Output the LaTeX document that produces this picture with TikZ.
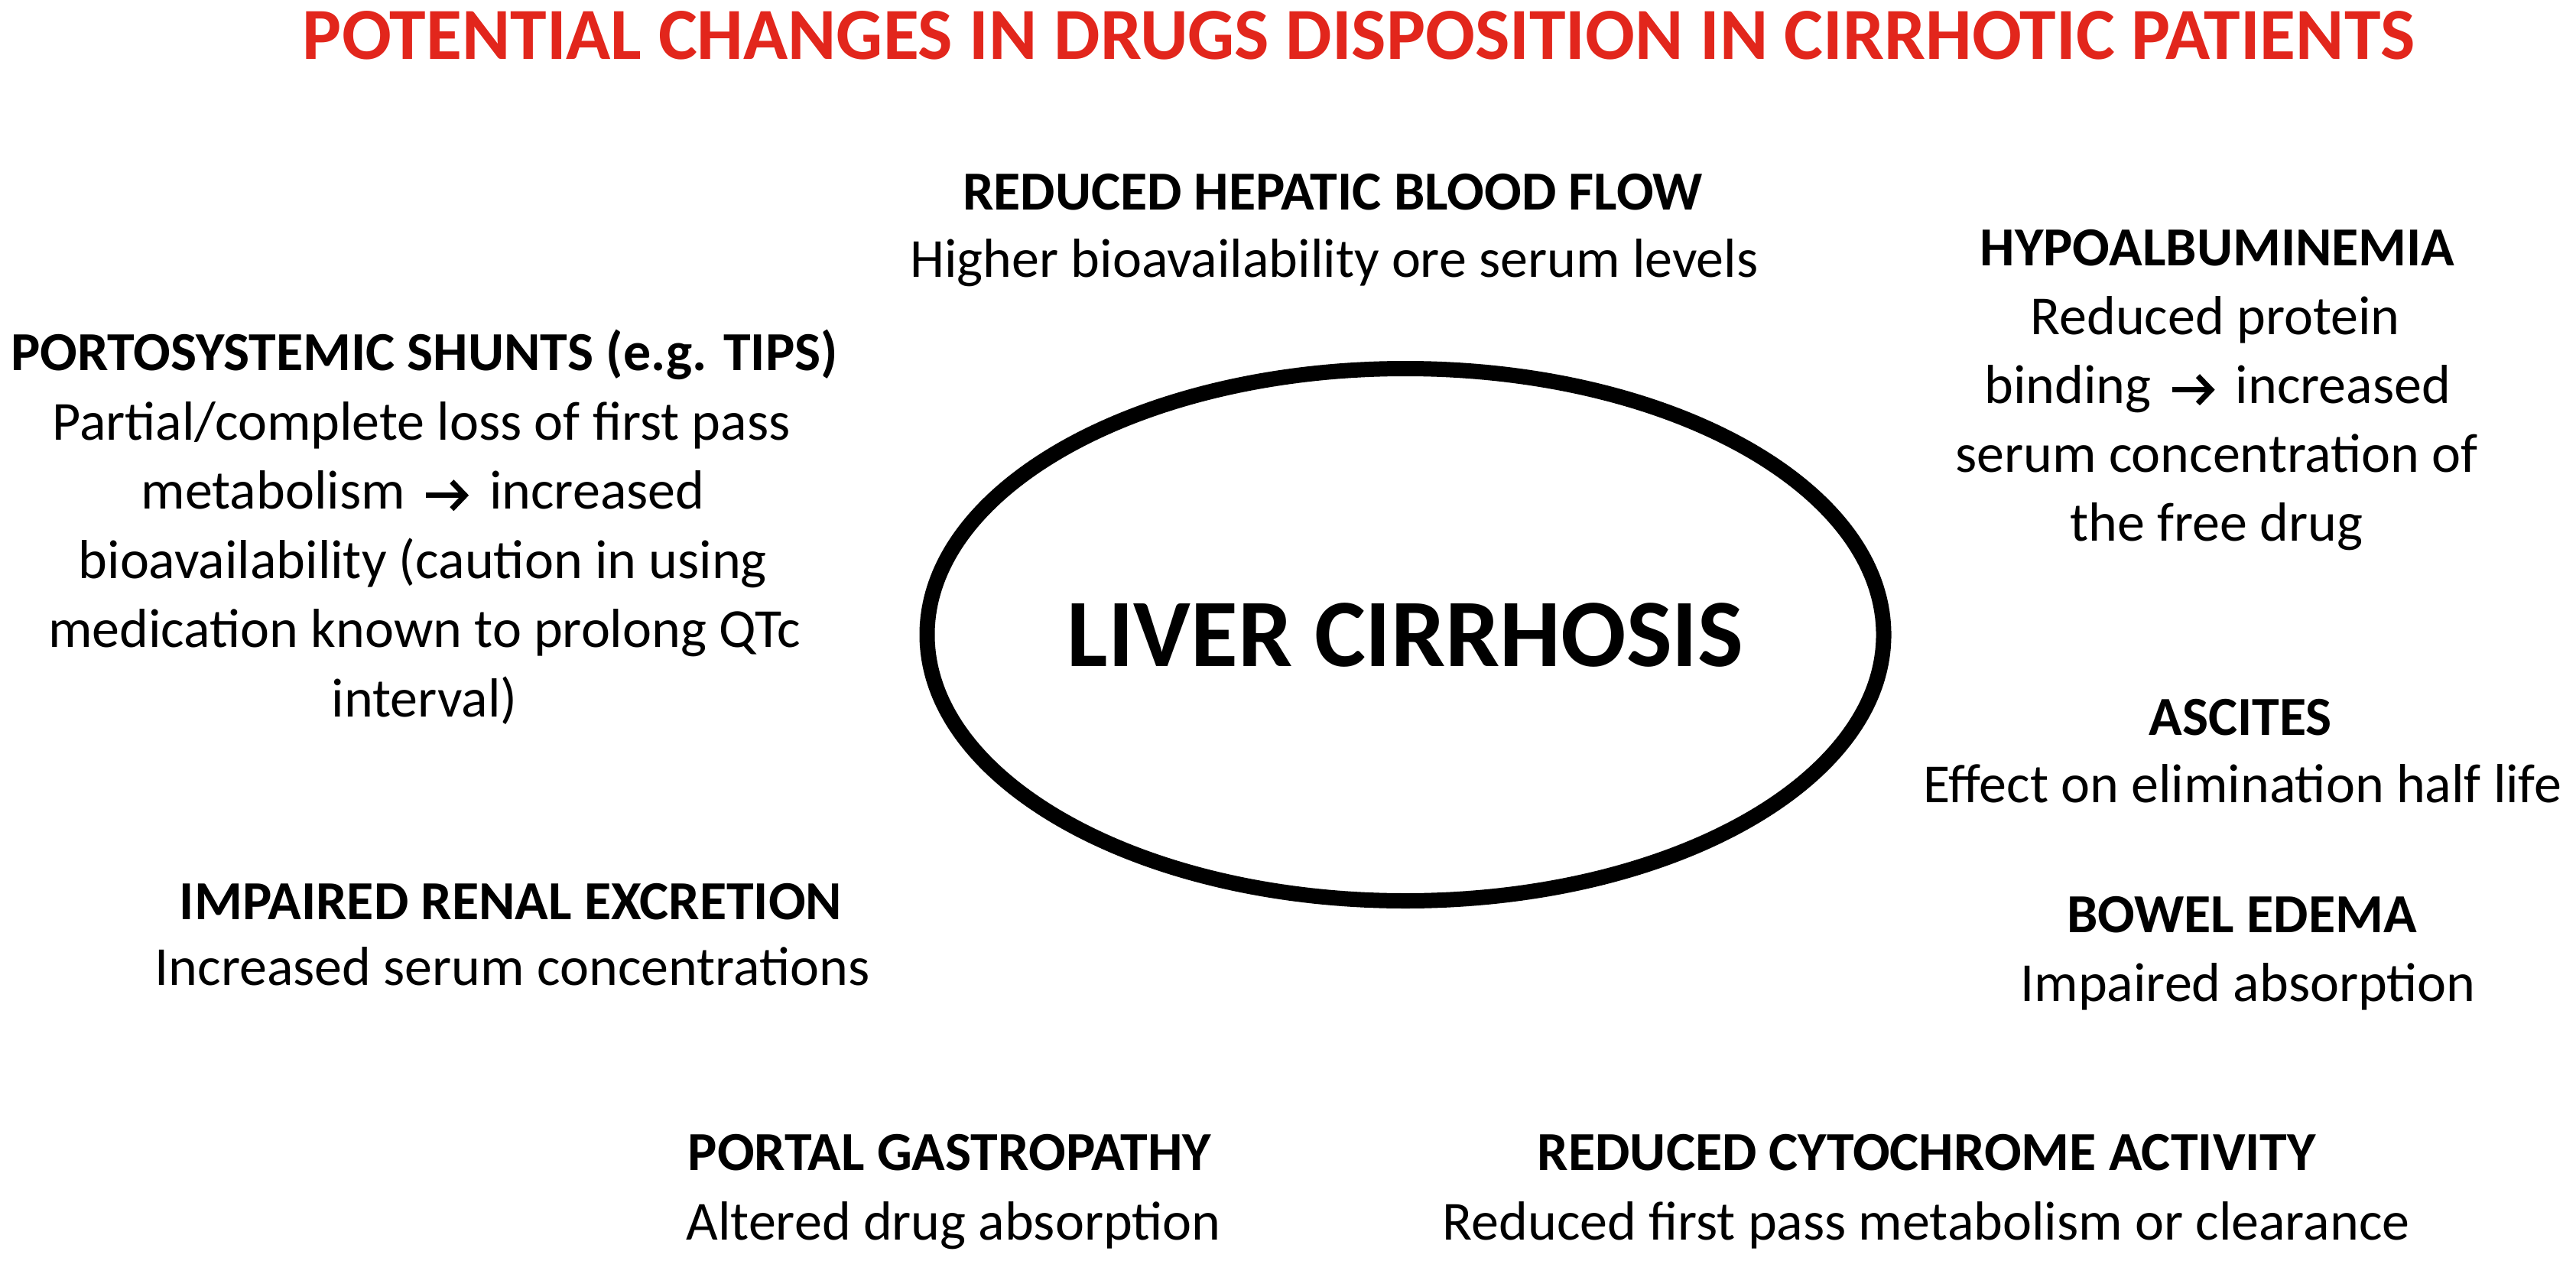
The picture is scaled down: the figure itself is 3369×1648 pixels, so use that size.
\documentclass[tikz,border=0pt]{standalone}
\usepackage{fontspec}
\setmainfont{Carlito}
\usetikzlibrary{shapes.geometric,arrows.meta}
\definecolor{titlered}{RGB}{226,38,28}
\newcommand{\chevarrow}{\hspace{0.1em}\tikz[baseline=0pt,x=1pt,y=1pt]{\draw[line width=0.1em,-{Straight Barb[length=0.24em,width=0.5em,line width=0.1em]}] (0,0.24em) -- (0.78em,0.24em);}\hspace{0.1em}}
\begin{document}
\begin{tikzpicture}[x=0.25pt,y=-0.25pt,
  hd/.style={anchor=base,inner sep=0pt,font=\fontsize{18pt}{22.5pt}\selectfont\bfseries},
  bd/.style={anchor=base,inner sep=0pt,font=\fontsize{18pt}{22.5pt}\selectfont},
  titletext/.style={anchor=base,inner sep=0pt,text=titlered,font=\fontsize{24pt}{29pt}\selectfont\bfseries},
  core/.style={ellipse,draw,line width=5pt,minimum width=269.5pt,minimum height=174pt,inner sep=0pt,font=\fontsize{31.6pt}{38pt}\selectfont\bfseries}]
\fill[white] (0,0) rectangle (3369,1648);
\useasboundingbox (0,0) rectangle (3369,1648);
\node[titletext] (title) at (1777,78) {POTENTIAL CHANGES IN DRUGS DISPOSITION IN CIRRHOTIC PATIENTS};
\node[hd] (flowH) at (1743,274) {REDUCED HEPATIC BLOOD FLOW};
\node[bd] (flowB) at (1745,362) {Higher bioavailability ore serum levels};
\node[hd] (albH) at (2900,347) {HYPOALBUMINEMIA};
\node[bd] (albB1) at (2897,437) {Reduced protein};
\node[bd] (albB2) at (2900,527) {binding \chevarrow{} increased};
\node[bd] (albB3) at (2899,617) {serum concentration of};
\node[bd] (albB4) at (2899,707) {the free drug};
\node[hd] (shuntH) at (555,484) {PORTOSYSTEMIC SHUNTS (e.g. TIPS)};
\node[bd] (shuntB1) at (551,575) {Partial/complete loss of first pass};
\node[bd] (shuntB2) at (553,665) {metabolism \chevarrow{} increased};
\node[bd] (shuntB3) at (553,756) {bioavailability (caution in using};
\node[bd] (shuntB4) at (555,846) {medication known to prolong QTc};
\node[bd] (shuntB5) at (555,937) {interval)};
\node[core] (liver) at (1838,830) {LIVER CIRRHOSIS};
\node[hd] (ascH) at (2930,961) {ASCITES};
\node[bd] (ascB) at (2933,1049) {Effect on elimination half life};
\node[hd] (renH) at (668,1202) {IMPAIRED RENAL EXCRETION};
\node[bd] (renB) at (670,1288) {Increased serum concentrations};
\node[hd] (bowH) at (2932,1219) {BOWEL EDEMA};
\node[bd] (bowB) at (2940,1309) {Impaired absorption};
\node[hd] (gasH) at (1242,1530) {PORTAL GASTROPATHY};
\node[bd] (gasB) at (1247,1621) {Altered drug absorption};
\node[hd] (cypH) at (2520,1530) {REDUCED CYTOCHROME ACTIVITY};
\node[bd] (cypB) at (2519,1621) {Reduced first pass metabolism or clearance};
\end{tikzpicture}
\end{document}
